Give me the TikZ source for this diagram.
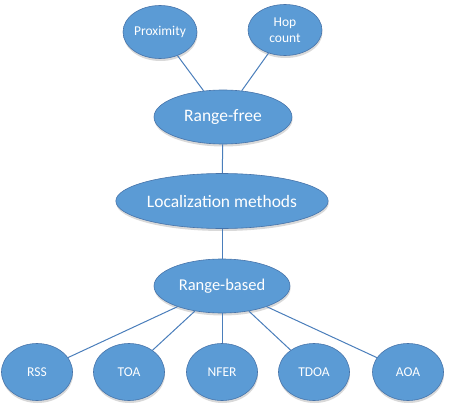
\documentclass[tikz,border=0pt]{standalone}
\usepackage{fontspec}
\setmainfont{Carlito}
\usetikzlibrary{shapes.geometric,shadows}
\definecolor{ofill}{HTML}{5B9BD5}
\definecolor{oline}{HTML}{4F81BD}
\definecolor{oedge}{HTML}{4A7EBB}
\begin{document}
\begin{tikzpicture}[x=1pt,y=-1pt,
  bub/.style={ellipse, fill=ofill, draw=oline!90!black, line width=0.6pt, text=white, inner sep=0pt,
    drop shadow={shadow xshift=0.5pt, shadow yshift=-2.5pt, opacity=0.25, fill=black!60}},
  conn/.style={draw=oedge, line width=1pt}]
\useasboundingbox (0,0) rectangle (474,404);
\node[bub, minimum width=74pt, minimum height=53pt, font=\fontsize{13.5}{15}\selectfont] (prox) at (160,32) {Proximity};
\node[bub, minimum width=74pt, minimum height=51pt, align=center, font=\fontsize{13.5}{16}\selectfont] (hop) at (285,30) {Hop\\count};
\node[bub, minimum width=138pt, minimum height=54pt, font=\fontsize{17.5}{19}\selectfont] (rf) at (223,117) {Range-free};
\node[bub, minimum width=204pt, minimum height=55pt, font=\fontsize{17.5}{19}\selectfont] (loc) at (222,201) {Localization methods};
\node[bub, minimum width=136pt, minimum height=54pt, font=\fontsize{16.5}{19}\selectfont] (rb) at (222,286) {Range-based};
\foreach \n/\t/\x in {rss/RSS/37, toa/TOA/129, nfer/NFER/222, tdoa/TDOA/314, aoa/AOA/408}{
  \node[bub, minimum width=71pt, minimum height=57pt, font=\fontsize{13.5}{15}\selectfont] (\n) at (\x,372) {\t};
}
\draw[conn] (prox) -- (rf);
\draw[conn] (hop) -- (rf);
\draw[conn] (rf) -- (loc);
\draw[conn] (loc) -- (rb);
\foreach \n in {rss,toa,nfer,tdoa,aoa}{\draw[conn] (rb) -- (\n);}
\end{tikzpicture}
\end{document}
